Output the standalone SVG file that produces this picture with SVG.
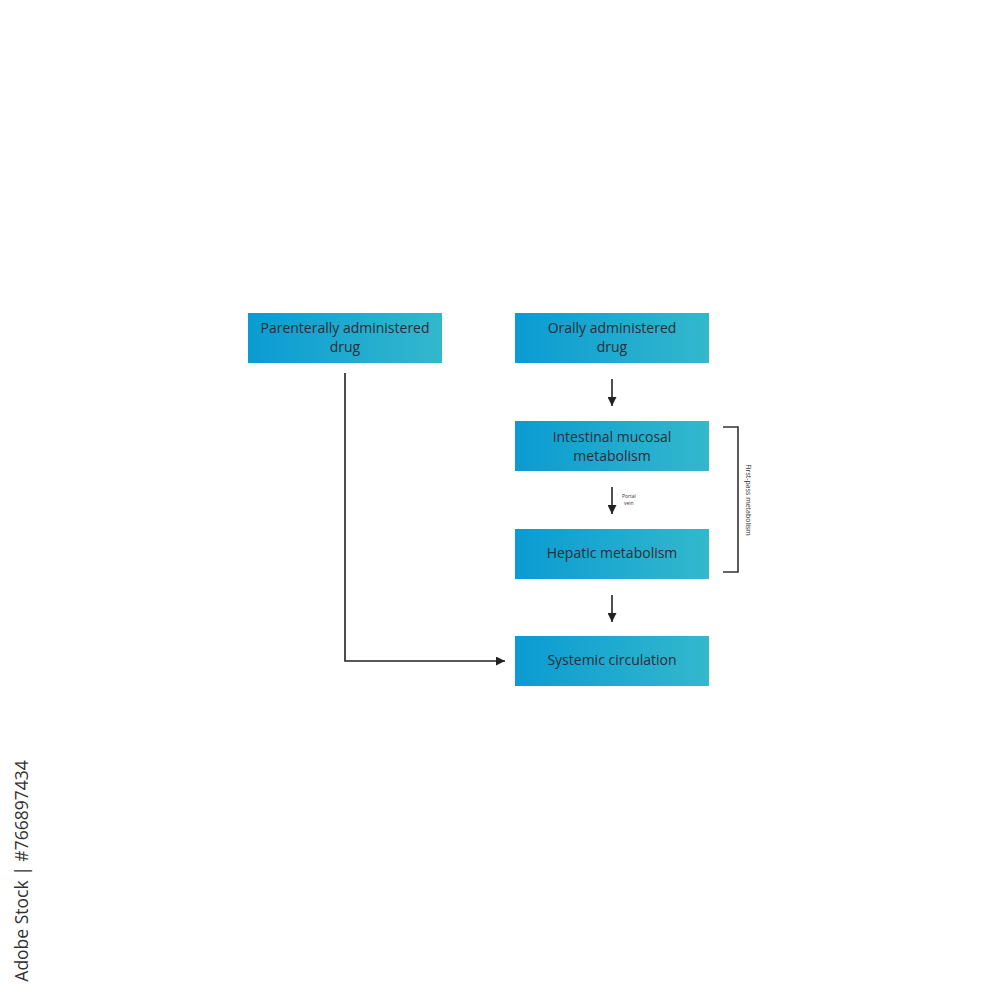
<svg xmlns="http://www.w3.org/2000/svg" width="1000" height="1000" viewBox="0 0 1000 1000">
<defs>
<linearGradient id="g" x1="0" y1="0" x2="1" y2="0">
<stop offset="0" stop-color="#0a9bd2"/>
<stop offset="1" stop-color="#33b8cc"/>
</linearGradient>
<marker id="ah" viewBox="0 0 10 10" refX="10" refY="5" markerWidth="9" markerHeight="9" markerUnits="userSpaceOnUse" orient="auto">
<path d="M0,0 L10,5 L0,10 z" fill="#222"/>
</marker>
<style>
.box{fill:url(#g)}
.t{font-family:"Open Sans","Liberation Sans",sans-serif;font-size:14px;fill:#2b2f36;text-anchor:middle}
.c{stroke:#222;stroke-width:1.6;fill:none}
</style>
</defs>
<rect width="1000" height="1000" fill="#fff"/>
<g id="parenteral"><rect class="box" x="248" y="313" width="194" height="50"/><text class="t" x="345" y="333">Parenterally administered</text><text class="t" x="345" y="352">drug</text></g>
<g id="oral"><rect class="box" x="515" y="313" width="194" height="50"/><text class="t" x="612" y="333">Orally administered</text><text class="t" x="612" y="352">drug</text></g>
<g id="intestinal"><rect class="box" x="515" y="421" width="194" height="50"/><text class="t" x="612" y="442">Intestinal mucosal</text><text class="t" x="612" y="461">metabolism</text></g>
<g id="hepatic"><rect class="box" x="515" y="529" width="194" height="50"/><text class="t" x="612" y="558">Hepatic metabolism</text></g>
<g id="systemic"><rect class="box" x="515" y="636" width="194" height="50"/><text class="t" x="612" y="665">Systemic circulation</text></g>
<g id="connectors">
<path class="c" d="M612,379 V406" marker-end="url(#ah)"/>
<path class="c" d="M612,487 V514" marker-end="url(#ah)"/>
<path class="c" d="M612,595 V622" marker-end="url(#ah)"/>
<path class="c" d="M345,373 V661 H505" marker-end="url(#ah)"/>
<text x="622" y="498" font-family="Open Sans, Liberation Sans, sans-serif" font-size="5" fill="#333">Portal</text>
<text x="624" y="505" font-family="Open Sans, Liberation Sans, sans-serif" font-size="5" fill="#333">vein</text>
</g>
<g id="bracket">
<path d="M723,427 H738 V572 H723" stroke="#333" stroke-width="1.6" fill="none"/>
<text transform="translate(746,500) rotate(90)" font-family="Open Sans, Liberation Sans, sans-serif" font-size="7" fill="#333" text-anchor="middle">First-pass metabolism</text>
</g>
<text transform="translate(28,871) rotate(-90)" font-family="Open Sans, Liberation Sans, sans-serif" font-size="17.5" fill="#333" text-anchor="middle">Adobe Stock | #766897434</text>
</svg>
